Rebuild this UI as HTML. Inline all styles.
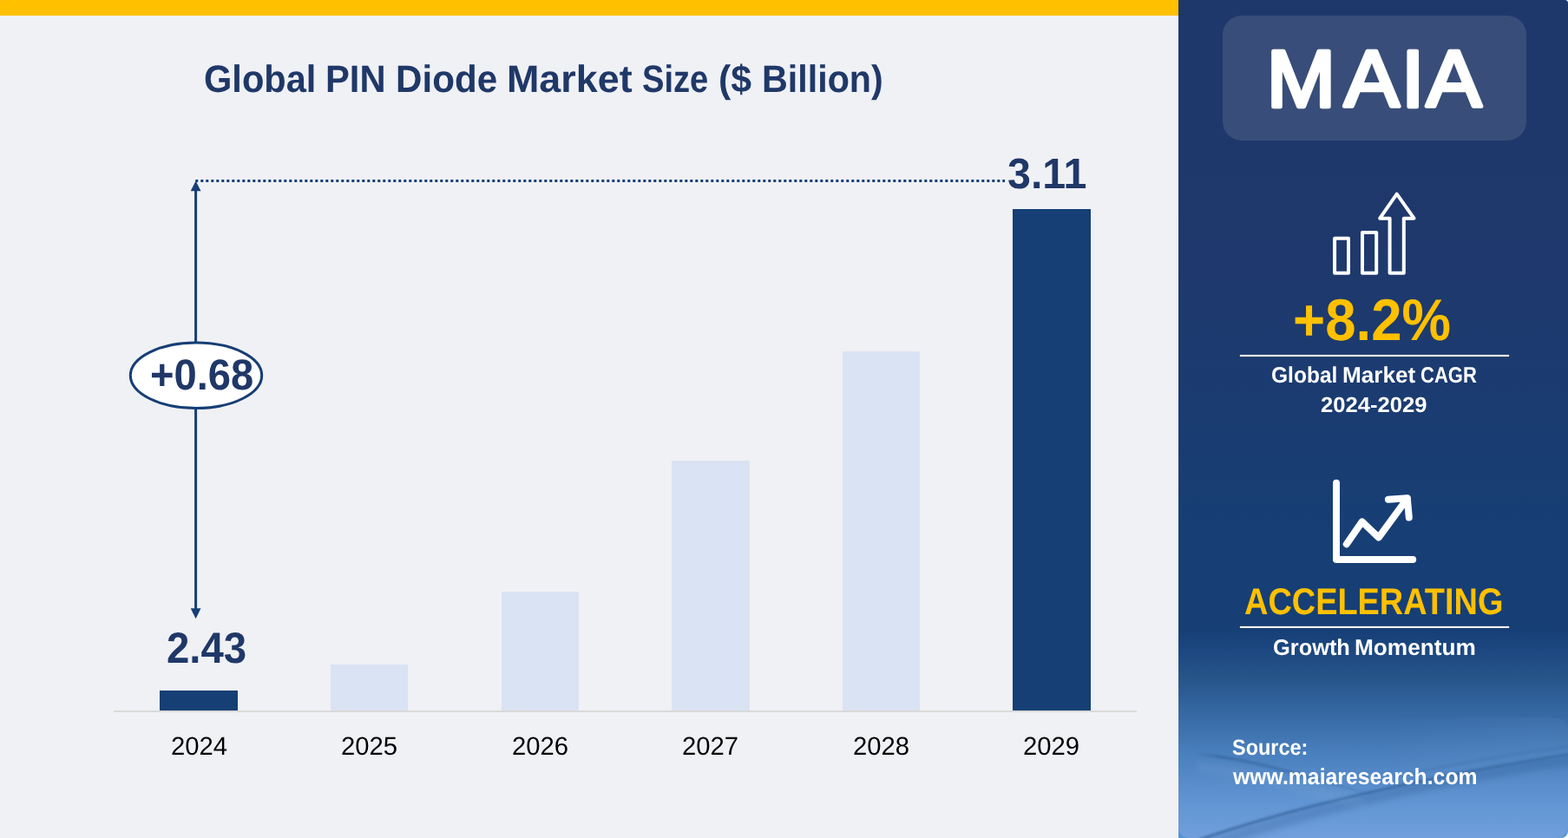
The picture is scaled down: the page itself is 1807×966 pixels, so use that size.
<!DOCTYPE html>
<html lang="en">
<head>
<meta charset="utf-8">
<title>Global PIN Diode Market Size ($ Billion)</title>
<style>
html,body{margin:0;padding:0;background:#FFFFFF;}
body{width:1807px;height:966px;overflow:hidden;}
#stage{position:relative;width:1807px;height:966px;overflow:hidden;border-radius:1px 4px 8px 1px;background:#F0F1F5;font-family:"Liberation Sans",sans-serif;}
.t{position:absolute;display:block;white-space:pre;line-height:1;transform-origin:0 0;margin:0;padding:0;text-rendering:geometricPrecision;}
.bar{position:absolute;}
#topbar{position:absolute;left:0;top:0;width:1358px;height:18px;background:#FFC000;}
#axis{position:absolute;left:131px;top:819px;width:1179px;height:2px;background:#D9D9D9;}
#sep{position:absolute;left:1357px;top:18px;width:1px;height:948px;background:#FAFAFD;}
#panel{position:absolute;left:1358px;top:0;width:449px;height:966px;overflow:hidden;background:#5396D4;}
#pgrad{position:absolute;left:0;top:0;width:449px;height:966px;border-radius:0 0 13px 13px;overflow:hidden;
 background:linear-gradient(180deg,#1F386C 0px,#1F386C 200px,#1E396D 330px,#1C3B70 420px,#193D73 520px,#173F75 610px,#163F76 726px,#1C4780 750px,#265489 780px,#31629B 810px,#3D71AE 840px,#4A80BE 870px,#578BC9 900px,#6396D4 930px,#709FDC 966px);}
#logo{position:absolute;left:51px;top:18px;width:350px;height:144px;border-radius:22px;background:#384D79;}
svg{position:absolute;left:0;top:0;overflow:visible;}
</style>
</head>
<body>
<div id="stage">
  <div id="topbar"></div>

  <!-- chart -->
  <div id="chart">
<div class="bar" style="left:184px;top:796px;width:90px;height:24px;background:#153F75"></div>
<div class="bar" style="left:381px;top:766px;width:89px;height:54px;background:#DAE3F3"></div>
<div class="bar" style="left:578px;top:682px;width:89px;height:138px;background:#DAE3F3"></div>
<div class="bar" style="left:774px;top:531px;width:90px;height:289px;background:#DAE3F3"></div>
<div class="bar" style="left:971px;top:405px;width:89px;height:415px;background:#DAE3F3"></div>
<div class="bar" style="left:1167px;top:241px;width:90px;height:579px;background:#153F75"></div>
    <div id="axis"></div>
    <svg width="1358" height="966" viewBox="0 0 1358 966">
      <line x1="225.3" y1="208.6" x2="1158" y2="208.6" stroke="#163E75" stroke-width="3" stroke-dasharray="3 3"/>
      <line x1="225.6" y1="216" x2="225.6" y2="706" stroke="#163E75" stroke-width="3"/>
      <polygon points="225.6,208.4 231.5,220.2 219.7,220.2" fill="#163E75"/>
      <polygon points="225.6,713.2 231.5,701.2 219.7,701.2" fill="#163E75"/>
      <ellipse cx="226" cy="432.8" rx="75.7" ry="37.8" fill="#FFFFFF" stroke="#163E75" stroke-width="3"/>
    </svg>
<div class="ph" id="title" aria-label="Global PIN Diode Market Size ($ Billion)"><span class="t" style="left:235.04px;top:69.69px;font-size:43.94px;font-weight:700;color:#1F3868;transform:scaleX(0.9467)">Global </span><span class="t" style="left:375.49px;top:69.69px;font-size:43.94px;font-weight:700;color:#1F3868;transform:scaleX(0.9489)">PIN </span><span class="t" style="left:455.96px;top:69.69px;font-size:43.94px;font-weight:700;color:#1F3868;transform:scaleX(0.9604)">Diode </span><span class="t" style="left:584.28px;top:69.69px;font-size:43.94px;font-weight:700;color:#1F3868;transform:scaleX(1.021)">Market </span><span class="t" style="left:740.46px;top:69.69px;font-size:43.94px;font-weight:700;color:#1F3868;transform:scaleX(0.868)">Size </span><span class="t" style="left:827.86px;top:69.69px;font-size:43.94px;font-weight:700;color:#1F3868;transform:scaleX(0.9738)">($ </span><span class="t" style="left:878.12px;top:69.69px;font-size:43.94px;font-weight:700;color:#1F3868;transform:scaleX(0.9388)">Billion)</span></div>
<div class="t" style="left:1160.99px;top:175.61px;font-size:49.46px;font-weight:700;color:#1F3868;transform:scaleX(0.978)">3.11</div>
<div class="t" style="left:172.71px;top:407.58px;font-size:49.9px;font-weight:700;color:#1F3868;transform:scaleX(0.945)">+0.68</div>
<div class="t" style="left:191.94px;top:721.51px;font-size:50.05px;font-weight:700;color:#1F3868;transform:scaleX(0.9463)">2.43</div>
<div class="t" style="left:196.74px;top:845.73px;font-size:29.44px;font-weight:400;color:#000000;transform:scaleX(0.9945)">2024</div>
<div class="t" style="left:393.24px;top:845.73px;font-size:29.44px;font-weight:400;color:#000000;transform:scaleX(0.9945)">2025</div>
<div class="t" style="left:589.74px;top:845.73px;font-size:29.44px;font-weight:400;color:#000000;transform:scaleX(0.9945)">2026</div>
<div class="t" style="left:786.24px;top:845.73px;font-size:29.44px;font-weight:400;color:#000000;transform:scaleX(0.9945)">2027</div>
<div class="t" style="left:982.74px;top:845.73px;font-size:29.44px;font-weight:400;color:#000000;transform:scaleX(0.9945)">2028</div>
<div class="t" style="left:1179.24px;top:845.73px;font-size:29.44px;font-weight:400;color:#000000;transform:scaleX(0.9945)">2029</div>
  </div>

  <div id="sep"></div>

  <!-- side panel -->
  <div id="panel">
    <div id="pgrad">
      <svg id="waves" width="449" height="966" viewBox="0 0 449 966">
        <defs>
          <filter id="b1" x="-10%" y="-100%" width="120%" height="300%"><feGaussianBlur stdDeviation="1.3"/></filter>
          <filter id="b3" x="-10%" y="-100%" width="120%" height="300%"><feGaussianBlur stdDeviation="3"/></filter>
          <linearGradient id="gband" gradientUnits="userSpaceOnUse" x1="230" y1="0" x2="449" y2="0">
            <stop offset="0" stop-color="#FFFFFF" stop-opacity="0"/>
            <stop offset="1" stop-color="#FFFFFF" stop-opacity="0.032"/>
          </linearGradient>
          <linearGradient id="gA" gradientUnits="userSpaceOnUse" x1="20" y1="0" x2="449" y2="0">
            <stop offset="0" stop-color="#234C82" stop-opacity="0.50"/>
            <stop offset="0.6" stop-color="#234C82" stop-opacity="0.42"/>
            <stop offset="1" stop-color="#234C82" stop-opacity="0.34"/>
          </linearGradient>
          <linearGradient id="gB" gradientUnits="userSpaceOnUse" x1="20" y1="0" x2="230" y2="0">
            <stop offset="0" stop-color="#234C82" stop-opacity="0"/>
            <stop offset="0.12" stop-color="#234C82" stop-opacity="0.40"/>
            <stop offset="0.55" stop-color="#234C82" stop-opacity="0.34"/>
            <stop offset="1" stop-color="#234C82" stop-opacity="0"/>
          </linearGradient>
        </defs>
        <path d="M230 827 H431 Q449 827 449 845 V873 C380 881 310 892 230 909 Z" fill="url(#gband)"/>
        <path d="M20 972 C120 936 270 898 455 870 L455 882 C290 905 150 943 62 972 Z" fill="#234C82" opacity="0.22" filter="url(#b3)"/>
        <path d="M24 968 C120 935 270 897 455 869" fill="none" stroke="url(#gA)" stroke-width="3" filter="url(#b1)"/>
        <path d="M235 899 C300 884 380 870 455 860" fill="none" stroke="#234C82" stroke-opacity="0.16" stroke-width="2.5" filter="url(#b1)"/>
        <path d="M20 869.5 C70 872 130 890 230 918" fill="none" stroke="url(#gB)" stroke-width="3" filter="url(#b1)"/>
        <path d="M22 877 C70 880 130 898 215 921 L215 931 C130 913 70 893 22 891 Z" fill="#FFFFFF" opacity="0.04" filter="url(#b3)"/>
      </svg>
    </div>
    <div id="logo"></div>
    <svg width="449" height="966" viewBox="1358 0 449 966" fill="none" stroke="#FFFFFF">
      <g stroke="#0A2559" stroke-opacity="0.5" stroke-width="1.8" paint-order="stroke" fill="#FFFFFF">
        <rect x="1428.8" y="408.9" width="310.4" height="2.2"/>
        <rect x="1428.8" y="721.85" width="310.4" height="2.2"/>
      </g>
      <g stroke-width="4" stroke-linejoin="round">
        <rect x="1538.1" y="274.7" width="15.9" height="40.1"/>
        <rect x="1570" y="268" width="16.2" height="46.8"/>
        <path d="M1601.6 314.8 V251.7 H1590.2 L1609.7 223.7 L1629.5 251.7 H1617.8 V314.8 Z"/>
      </g>
      <g stroke-width="8" stroke-linejoin="round" stroke-linecap="round">
        <path d="M1540 556.8 V645.1 H1628.2"/>
        <path d="M1551.8 627.2 L1569.7 601.4 L1588.8 619.6 L1621.6 574.8"/>
        <path d="M1599.9 575.8 L1621.8 574.2 L1623.8 596.6"/>
      </g>
    </svg>
  </div>
  <div id="ptext">
    <svg id="logotext" width="449" height="180" viewBox="0 0 449 180" style="left:1358px;top:0">
      <g transform="scale(1.02 1)"><text x="99.73 187.38 251.90 280.03" y="123.3" font-family="Liberation Sans, sans-serif" font-weight="400" font-size="93.4" fill="#FFFFFF" stroke="#FFFFFF" stroke-width="4.6" stroke-linejoin="round">MAIA</text></g>
    </svg>
<div class="t" style="left:1489.56px;top:335.59px;font-size:67.66px;font-weight:700;color:#FFC000;transform:scaleX(0.9397)">+8.2%</div>
<div class="ph" id="gmc" aria-label="Global Market CAGR"><span class="t" style="left:1464.52px;top:420.6px;font-size:25.85px;font-weight:700;color:#FFFFFF;transform:scaleX(0.9504)">Global </span><span class="t" style="left:1546.5px;top:420.6px;font-size:25.85px;font-weight:700;color:#FFFFFF;transform:scaleX(1.0123)">Market </span><span class="t" style="left:1637.42px;top:420.6px;font-size:25.85px;font-weight:700;color:#FFFFFF;transform:scaleX(0.8516)">CAGR</span></div>
<div class="t" style="left:1522.4px;top:454.67px;font-size:24.87px;font-weight:700;color:#FFFFFF;transform:scaleX(1.0313)">2024-2029</div>
<div class="t" style="left:1434.25px;top:672.72px;font-size:43.07px;font-weight:700;color:#FFC000;transform:scaleX(0.8804)">ACCELERATING</div>
<div class="ph" id="gm" aria-label="Growth Momentum"><span class="t" style="left:1466.78px;top:734.64px;font-size:25.84px;font-weight:700;color:#FFFFFF;transform:scaleX(0.9834)">Growth </span><span class="t" style="left:1561.09px;top:734.64px;font-size:25.84px;font-weight:700;color:#FFFFFF;transform:scaleX(1.0156)">Momentum</span></div>
<div class="t" style="left:1420.2px;top:849.72px;font-size:25.21px;font-weight:700;color:#FFFFFF;transform:scaleX(0.9313)">Source:</div>
<div class="t" style="left:1420.9px;top:883.59px;font-size:25.84px;font-weight:700;color:#FFFFFF;transform:scaleX(0.96)">www.maiaresearch.com</div>
  </div>
</div>
</body>
</html>
